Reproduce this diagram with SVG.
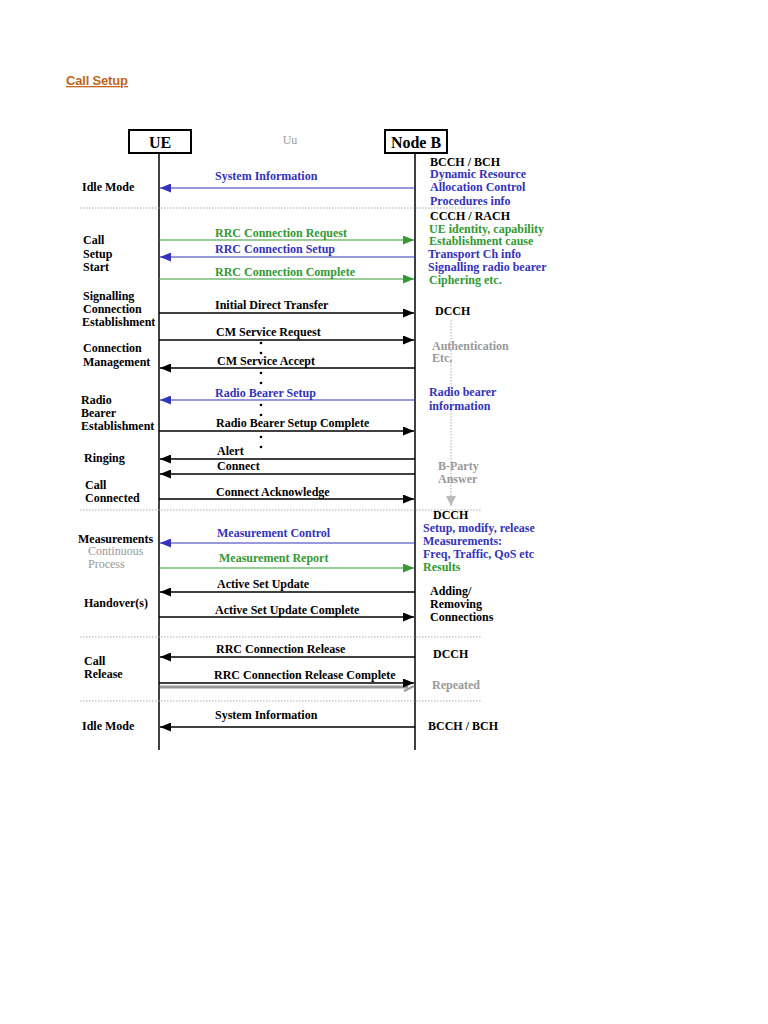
<svg xmlns="http://www.w3.org/2000/svg" width="768" height="1024" viewBox="0 0 768 1024">
<defs>
<marker id="ak" viewBox="0 0 11 9" refX="11" refY="4.5" markerWidth="11" markerHeight="9" markerUnits="userSpaceOnUse" orient="auto"><path d="M0,0 L11,4.5 L0,9 Z" fill="#000"/></marker>
<marker id="ab" viewBox="0 0 11 9" refX="11" refY="4.5" markerWidth="11" markerHeight="9" markerUnits="userSpaceOnUse" orient="auto"><path d="M0,0 L11,4.5 L0,9 Z" fill="#3333bb"/></marker>
<marker id="ag" viewBox="0 0 11 9" refX="11" refY="4.5" markerWidth="11" markerHeight="9" markerUnits="userSpaceOnUse" orient="auto"><path d="M0,0 L11,4.5 L0,9 Z" fill="#339933"/></marker>
<marker id="agr" viewBox="0 0 10 10" refX="10" refY="5" markerWidth="10" markerHeight="10" markerUnits="userSpaceOnUse" orient="auto"><path d="M0,0 L10,5 L0,10 Z" fill="#bbbbbb"/></marker>
</defs>
<style>
text{font-family:"Liberation Serif","DejaVu Serif",serif;font-weight:bold;font-size:12px;fill:#000}
.b{fill:#3333bb}.g{fill:#339933}.gr{fill:#999}
.title{font-family:"Liberation Sans",Arial,sans-serif;font-size:13px;fill:#c0651a;text-decoration:underline}
.box{fill:#fff;stroke:#000;stroke-width:2}
.hdr{font-size:16px}
.life{stroke:#000;stroke-width:1.5}
.sep{stroke:#aaa;stroke-width:1;stroke-dasharray:1.5 1.5}
.mk{stroke:#000;stroke-width:1.5;fill:none;marker-end:url(#ak)}
.mb{stroke:#3333bb;stroke-width:1.2;fill:none;marker-end:url(#ab)}
.mg{stroke:#339933;stroke-width:1.2;fill:none;marker-end:url(#ag)}
</style>
<rect width="768" height="1024" fill="#fff"/>
<text class="title" x="66" y="85" textLength="62">Call Setup</text>

<g id="ue"><rect class="box" x="129" y="130" width="62" height="23"/><text class="hdr" x="160" y="148" text-anchor="middle">UE</text></g>
<g id="nodeb"><rect class="box" x="385" y="130" width="62" height="23"/><text class="hdr" x="416" y="148" text-anchor="middle">Node B</text></g>
<text class="gr" x="290" y="144" text-anchor="middle" style="font-weight:normal">Uu</text>

<g id="lifelines">
<line class="life" x1="159" y1="153" x2="159" y2="750"/>
<line class="life" x1="415" y1="153" x2="415" y2="750"/>
</g>

<g id="separators">
<line class="sep" x1="80" y1="208" x2="482" y2="208"/>
<line class="sep" x1="80" y1="510" x2="482" y2="510"/>
<line class="sep" x1="80" y1="637" x2="482" y2="637"/>
<line class="sep" x1="80" y1="701" x2="482" y2="701"/>
</g>

<g id="connectors">
<line class="mb" x1="415" y1="188" x2="160" y2="188"/>
<line class="mg" x1="159" y1="240" x2="414" y2="240"/>
<line class="mb" x1="415" y1="257" x2="160" y2="257"/>
<line class="mg" x1="159" y1="279" x2="414" y2="279"/>
<line class="mk" x1="159" y1="313" x2="414" y2="313"/>
<line class="mk" x1="159" y1="340" x2="414" y2="340"/>
<line class="mk" x1="415" y1="368" x2="160" y2="368"/>
<line class="mb" x1="415" y1="400" x2="160" y2="400"/>
<line class="mk" x1="159" y1="431" x2="414" y2="431"/>
<line class="mk" x1="415" y1="459" x2="160" y2="459"/>
<line class="mk" x1="415" y1="474" x2="160" y2="474"/>
<line class="mk" x1="159" y1="499" x2="414" y2="499"/>
<line class="mb" x1="415" y1="543" x2="160" y2="543"/>
<line class="mg" x1="159" y1="568" x2="414" y2="568"/>
<line class="mk" x1="415" y1="592" x2="160" y2="592"/>
<line class="mk" x1="159" y1="617" x2="414" y2="617"/>
<line class="mk" x1="415" y1="657" x2="160" y2="657"/>
<line x1="160" y1="687" x2="408" y2="687" stroke="#999" stroke-width="3"/>
<line x1="404" y1="691" x2="414" y2="686" stroke="#999" stroke-width="2"/>
<line class="mk" x1="159" y1="683" x2="414" y2="683"/>
<line class="mk" x1="415" y1="727" x2="160" y2="727"/>
<line x1="451" y1="320" x2="451" y2="496" stroke="#aaa" stroke-width="1" stroke-dasharray="1.5 1.5"/>
<line x1="451" y1="495" x2="451" y2="506" stroke="#bbb" stroke-width="1" marker-end="url(#agr)"/>
</g>

<g id="dots" fill="#000">
<circle cx="261" cy="343" r="1.3"/><circle cx="261" cy="353" r="1.3"/>
<circle cx="261" cy="373" r="1.3"/><circle cx="261" cy="383" r="1.3"/>
<circle cx="261" cy="405" r="1.3"/><circle cx="261" cy="415" r="1.3"/>
<circle cx="261" cy="437" r="1.3"/><circle cx="261" cy="447" r="1.3"/>
</g>

<g id="msg-labels">
<text class="b" x="215" y="180">System Information</text>
<text class="g" x="215" y="237">RRC Connection Request</text>
<text class="b" x="215" y="253">RRC Connection Setup</text>
<text class="g" x="215" y="276">RRC Connection Complete</text>
<text x="215" y="309">Initial Direct Transfer</text>
<text x="216" y="336">CM Service Request</text>
<text x="217" y="365">CM Service Accept</text>
<text class="b" x="215" y="397">Radio Bearer Setup</text>
<text x="216" y="427">Radio Bearer Setup Complete</text>
<text x="217" y="455">Alert</text>
<text x="217" y="470">Connect</text>
<text x="216" y="496">Connect Acknowledge</text>
<text class="b" x="217" y="537">Measurement Control</text>
<text class="g" x="219" y="562">Measurement Report</text>
<text x="217" y="588">Active Set Update</text>
<text x="215" y="614">Active Set Update Complete</text>
<text x="216" y="653">RRC Connection Release</text>
<text x="214" y="679">RRC Connection Release Complete</text>
<text x="215" y="719">System Information</text>
</g>

<g id="phase-labels">
<text x="82" y="191">Idle Mode</text>
<text x="83" y="244">Call</text><text x="83" y="258">Setup</text><text x="83" y="271">Start</text>
<text x="83" y="300">Signalling</text><text x="83" y="313">Connection</text><text x="82" y="326">Establishment</text>
<text x="83" y="352">Connection</text><text x="83" y="366">Management</text>
<text x="81" y="404">Radio</text><text x="81" y="417">Bearer</text><text x="81" y="430">Establishment</text>
<text x="84" y="462">Ringing</text>
<text x="85" y="489">Call</text><text x="85" y="502">Connected</text>
<text x="78" y="543">Measurements</text>
<text class="gr" x="88" y="555" style="font-weight:normal">Continuous</text>
<text class="gr" x="88" y="568" style="font-weight:normal">Process</text>
<text x="84" y="607">Handover(s)</text>
<text x="84" y="665">Call</text><text x="84" y="678">Release</text>
<text x="82" y="730">Idle Mode</text>
</g>

<g id="channel-labels">
<text x="430" y="166">BCCH / BCH</text>
<text class="b" x="430" y="178">Dynamic Resource</text>
<text class="b" x="430" y="191">Allocation Control</text>
<text class="b" x="430" y="205">Procedures info</text>
<text x="430" y="220">CCCH / RACH</text>
<text class="g" x="429" y="233">UE identity, capability</text>
<text class="g" x="429" y="245">Establishment cause</text>
<text class="b" x="428" y="258">Transport Ch info</text>
<text class="b" x="428" y="271">Signalling radio bearer</text>
<text class="g" x="429" y="284">Ciphering etc.</text>
<text x="435" y="315">DCCH</text>
<text class="gr" x="432" y="350">Authentication</text>
<text class="gr" x="432" y="362">Etc.</text>
<text class="b" x="429" y="396">Radio bearer</text>
<text class="b" x="429" y="410">information</text>
<text class="gr" x="438" y="470">B-Party</text>
<text class="gr" x="438" y="483">Answer</text>
<text x="433" y="519">DCCH</text>
<text class="b" x="423" y="532">Setup, modify, release</text>
<text class="b" x="423" y="545">Measurements:</text>
<text class="b" x="423" y="558">Freq, Traffic, QoS etc</text>
<text class="g" x="423" y="571">Results</text>
<text x="430" y="595">Adding/</text>
<text x="430" y="608">Removing</text>
<text x="430" y="621">Connections</text>
<text x="433" y="658">DCCH</text>
<text class="gr" x="432" y="689">Repeated</text>
<text x="428" y="730">BCCH / BCH</text>
</g>
</svg>
